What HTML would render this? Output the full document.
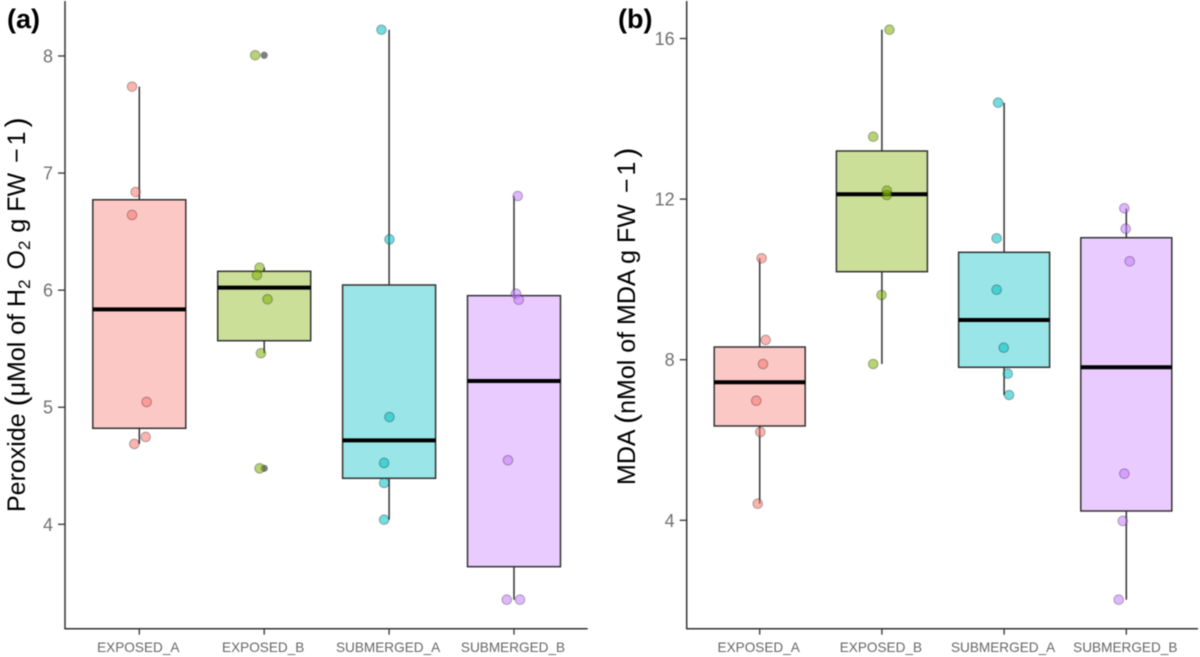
<!DOCTYPE html>
<html lang="en">
<head>
<meta charset="utf-8">
<title>Peroxide and MDA boxplots</title>
<style>
html,body{margin:0;padding:0;background:#fff;width:1200px;height:657px;overflow:hidden}
svg{display:block;font-family:"Liberation Sans",Arial,sans-serif;filter:blur(0.45px)}
</style>
</head>
<body>
<svg id="chart" xmlns="http://www.w3.org/2000/svg" width="1200" height="657" viewBox="0 0 1200 657">
  <rect width="1200" height="657" fill="#ffffff"/>
  <g id="panel-a"></g>
  <g id="panel-b"></g>
  <text x="7" y="28" font-size="27" font-weight="700" fill="#000">(a)</text>
  <text x="618" y="28" font-size="27" font-weight="700" fill="#000">(b)</text>
  <text transform="translate(25,512) rotate(-90)" font-size="25" fill="#000">Peroxide <tspan font-size="30" dy="1">(</tspan><tspan dy="-1">μMol of H</tspan><tspan font-size="17" dy="5">2</tspan><tspan dy="-5" dx="3"> O</tspan><tspan font-size="17" dy="5">2</tspan><tspan dy="-5" dx="1"> g FW </tspan><tspan dx="3">−</tspan><tspan dx="3">1</tspan><tspan font-size="30" dy="1" dx="4">)</tspan></text>
  <text transform="translate(635,485) rotate(-90)" font-size="25" fill="#000">MDA <tspan font-size="30" dy="1">(</tspan><tspan dy="-1">nMol of MDA g FW </tspan><tspan dx="4">−</tspan><tspan dx="3">1</tspan><tspan font-size="30" dy="1" dx="4">)</tspan></text>
</svg>
<script>
const categories = ["EXPOSED_A", "EXPOSED_B", "SUBMERGED_A", "SUBMERGED_B"];
const fillColors = ["#F8766D", "#7CAE00", "#00BFC4", "#C77CFF"];

const peroxideTicks = [4, 5, 6, 7, 8];
const peroxideValues = [
  [7.738, 6.838, 6.642, 5.045, 4.746, 4.686],
  [8.006, 6.192, 6.129, 5.922, 5.461, 4.478],
  [8.224, 6.434, 4.916, 4.524, 4.353, 4.039],
  [6.804, 5.970, 5.918, 4.547, 3.356, 3.356]
];
const peroxideJitter = [
  [-0.058, -0.029, -0.058, 0.059, 0.051, -0.040],
  [-0.072, -0.037, -0.058, 0.027, -0.026, -0.037],
  [-0.061, 0.003, 0.003, -0.040, -0.040, -0.040],
  [0.030, 0.016, 0.038, -0.048, -0.058, 0.048]
];
const peroxideQ1 = [4.820, 5.568, 4.393, 3.638];
const peroxideMedian = [5.836, 6.021, 4.717, 5.224];
const peroxideQ3 = [6.772, 6.161, 6.044, 5.953];
const peroxideWhiskerLow = [4.686, 5.461, 4.039, 3.356];
const peroxideWhiskerHigh = [7.738, 6.192, 8.224, 6.804];
const peroxideOutliers = [[], [8.006, 4.478], [], []];

const mdaTicks = [4, 8, 12, 16];
const mdaValues = [
  [10.526, 8.491, 7.893, 6.979, 6.199, 4.413],
  [16.219, 13.554, 12.209, 12.102, 9.611, 7.893],
  [14.401, 11.024, 9.743, 8.299, 7.651, 7.121],
  [11.771, 11.263, 10.451, 5.161, 3.983, 2.022]
];
const mdaJitter = [
  [0.016, 0.049, 0.027, -0.028, 0.005, -0.016],
  [0.062, -0.071, 0.041, 0.041, -0.003, -0.071],
  [-0.049, -0.061, -0.061, -0.003, 0.030, 0.041],
  [-0.016, -0.005, 0.028, -0.016, -0.029, -0.062]
];
const mdaQ1 = [6.349, 10.192, 7.811, 4.232];
const mdaMedian = [7.437, 12.120, 8.989, 7.811];
const mdaQ3 = [8.316, 13.198, 10.675, 11.038];
const mdaWhiskerLow = [4.413, 7.893, 7.121, 2.022];
const mdaWhiskerHigh = [10.526, 16.219, 14.401, 11.771];
const mdaOutliers = [[], [], [], []];

const SVG_NS = "http://www.w3.org/2000/svg";
function make(parent, tag, props, text) {
  const el = document.createElementNS(SVG_NS, tag);
  for (const key in props) el.setAttribute(key, props[key]);
  if (text !== undefined) el.textContent = text;
  parent.appendChild(el);
  return el;
}

function drawPanel(cfg) {
  const root = document.getElementById(cfg.id);
  const xScale = i => cfg.x0 + i * cfg.step;
  const yScale = v => cfg.yAt4 - (v - 4) * cfg.pxPerUnit;
  const axisColor = "#333333";
  const boxColor = "#333333";

  cfg.ticks.forEach(t => {
    const y = yScale(t);
    const tick = make(root, "line", {x1: cfg.axisX - 7, x2: cfg.axisX, y1: y, y2: y, stroke: axisColor, "stroke-width": 1.3});
    
    
    const label = make(root, "text", {x: cfg.axisX - 12, y: y + 6.5, "text-anchor": "end", "font-size": 18, fill: "#707070"}, String(t));
    
    
  });

  categories.forEach((name, i) => {
    const cx = xScale(i);
    const tick = make(root, "line", {x1: cx, x2: cx, y1: cfg.axisY, y2: cfg.axisY + 6, stroke: axisColor, "stroke-width": 1.3});
    
    
    const label = make(root, "text", {x: cx - 1, y: 652, "text-anchor": "middle", "font-size": 13.6, fill: "#666666"}, name);
    
    

    const upperWhisker = make(root, "line", {x1: cx, x2: cx, y1: yScale(cfg.whiskerHigh[i]), y2: yScale(cfg.q3[i]), stroke: boxColor, "stroke-width": 1.5});
    
    
    const lowerWhisker = make(root, "line", {x1: cx, x2: cx, y1: yScale(cfg.q1[i]), y2: yScale(cfg.whiskerLow[i]), stroke: boxColor, "stroke-width": 1.5});
    
    

    cfg.outliers[i].forEach(v => {
      const dot = make(root, "circle", {cx: cx, cy: yScale(v), r: 3.6, fill: "#7f7f7f"});
      
      
    });

    const topY = yScale(cfg.q3[i]);
    const box = make(root, "rect", {x: cx - cfg.boxWidth / 2, y: topY, width: cfg.boxWidth, height: yScale(cfg.q1[i]) - topY, fill: fillColors[i], "fill-opacity": 0.4, stroke: "none"});
    
    
    const outline = make(root, "rect", {x: cx - cfg.boxWidth / 2, y: topY, width: cfg.boxWidth, height: yScale(cfg.q1[i]) - topY, fill: "none", stroke: boxColor, "stroke-width": 1.5});
    
    
    const median = make(root, "line", {x1: cx - cfg.boxWidth / 2, x2: cx + cfg.boxWidth / 2, y1: yScale(cfg.median[i]), y2: yScale(cfg.median[i]), stroke: "#000", "stroke-width": 4});
    
    

    cfg.values[i].forEach((v, k) => {
      const pt = make(root, "circle", {cx: xScale(i + cfg.jitter[i][k]), cy: yScale(v), r: 4.8, fill: fillColors[i], "fill-opacity": 0.55, stroke: "#000", "stroke-opacity": 0.3, "stroke-width": 1});
      
      
    });
  });

  const yAxis = make(root, "line", {x1: cfg.axisX, x2: cfg.axisX, y1: 1, y2: cfg.axisY + 0.7, stroke: axisColor, "stroke-width": 1.5});
  
  
  const xAxis = make(root, "line", {x1: cfg.axisX, x2: cfg.axisRight, y1: cfg.axisY, y2: cfg.axisY, stroke: axisColor, "stroke-width": 1.5});
  
  
}

drawPanel({
  id: "panel-a", x0: 139.3, step: 124.9, boxWidth: 93, yAt4: 524.3, pxPerUnit: 117.08,
  axisX: 65, axisY: 628.7, axisRight: 587.7, ticks: peroxideTicks,
  values: peroxideValues, jitter: peroxideJitter, q1: peroxideQ1, median: peroxideMedian, q3: peroxideQ3,
  whiskerLow: peroxideWhiskerLow, whiskerHigh: peroxideWhiskerHigh, outliers: peroxideOutliers
});
drawPanel({
  id: "panel-b", x0: 759.7, step: 122.2, boxWidth: 91, yAt4: 520.3, pxPerUnit: 40.15,
  axisX: 686.7, axisY: 628.7, axisRight: 1198, ticks: mdaTicks,
  values: mdaValues, jitter: mdaJitter, q1: mdaQ1, median: mdaMedian, q3: mdaQ3,
  whiskerLow: mdaWhiskerLow, whiskerHigh: mdaWhiskerHigh, outliers: mdaOutliers
});
</script>
</body>
</html>
